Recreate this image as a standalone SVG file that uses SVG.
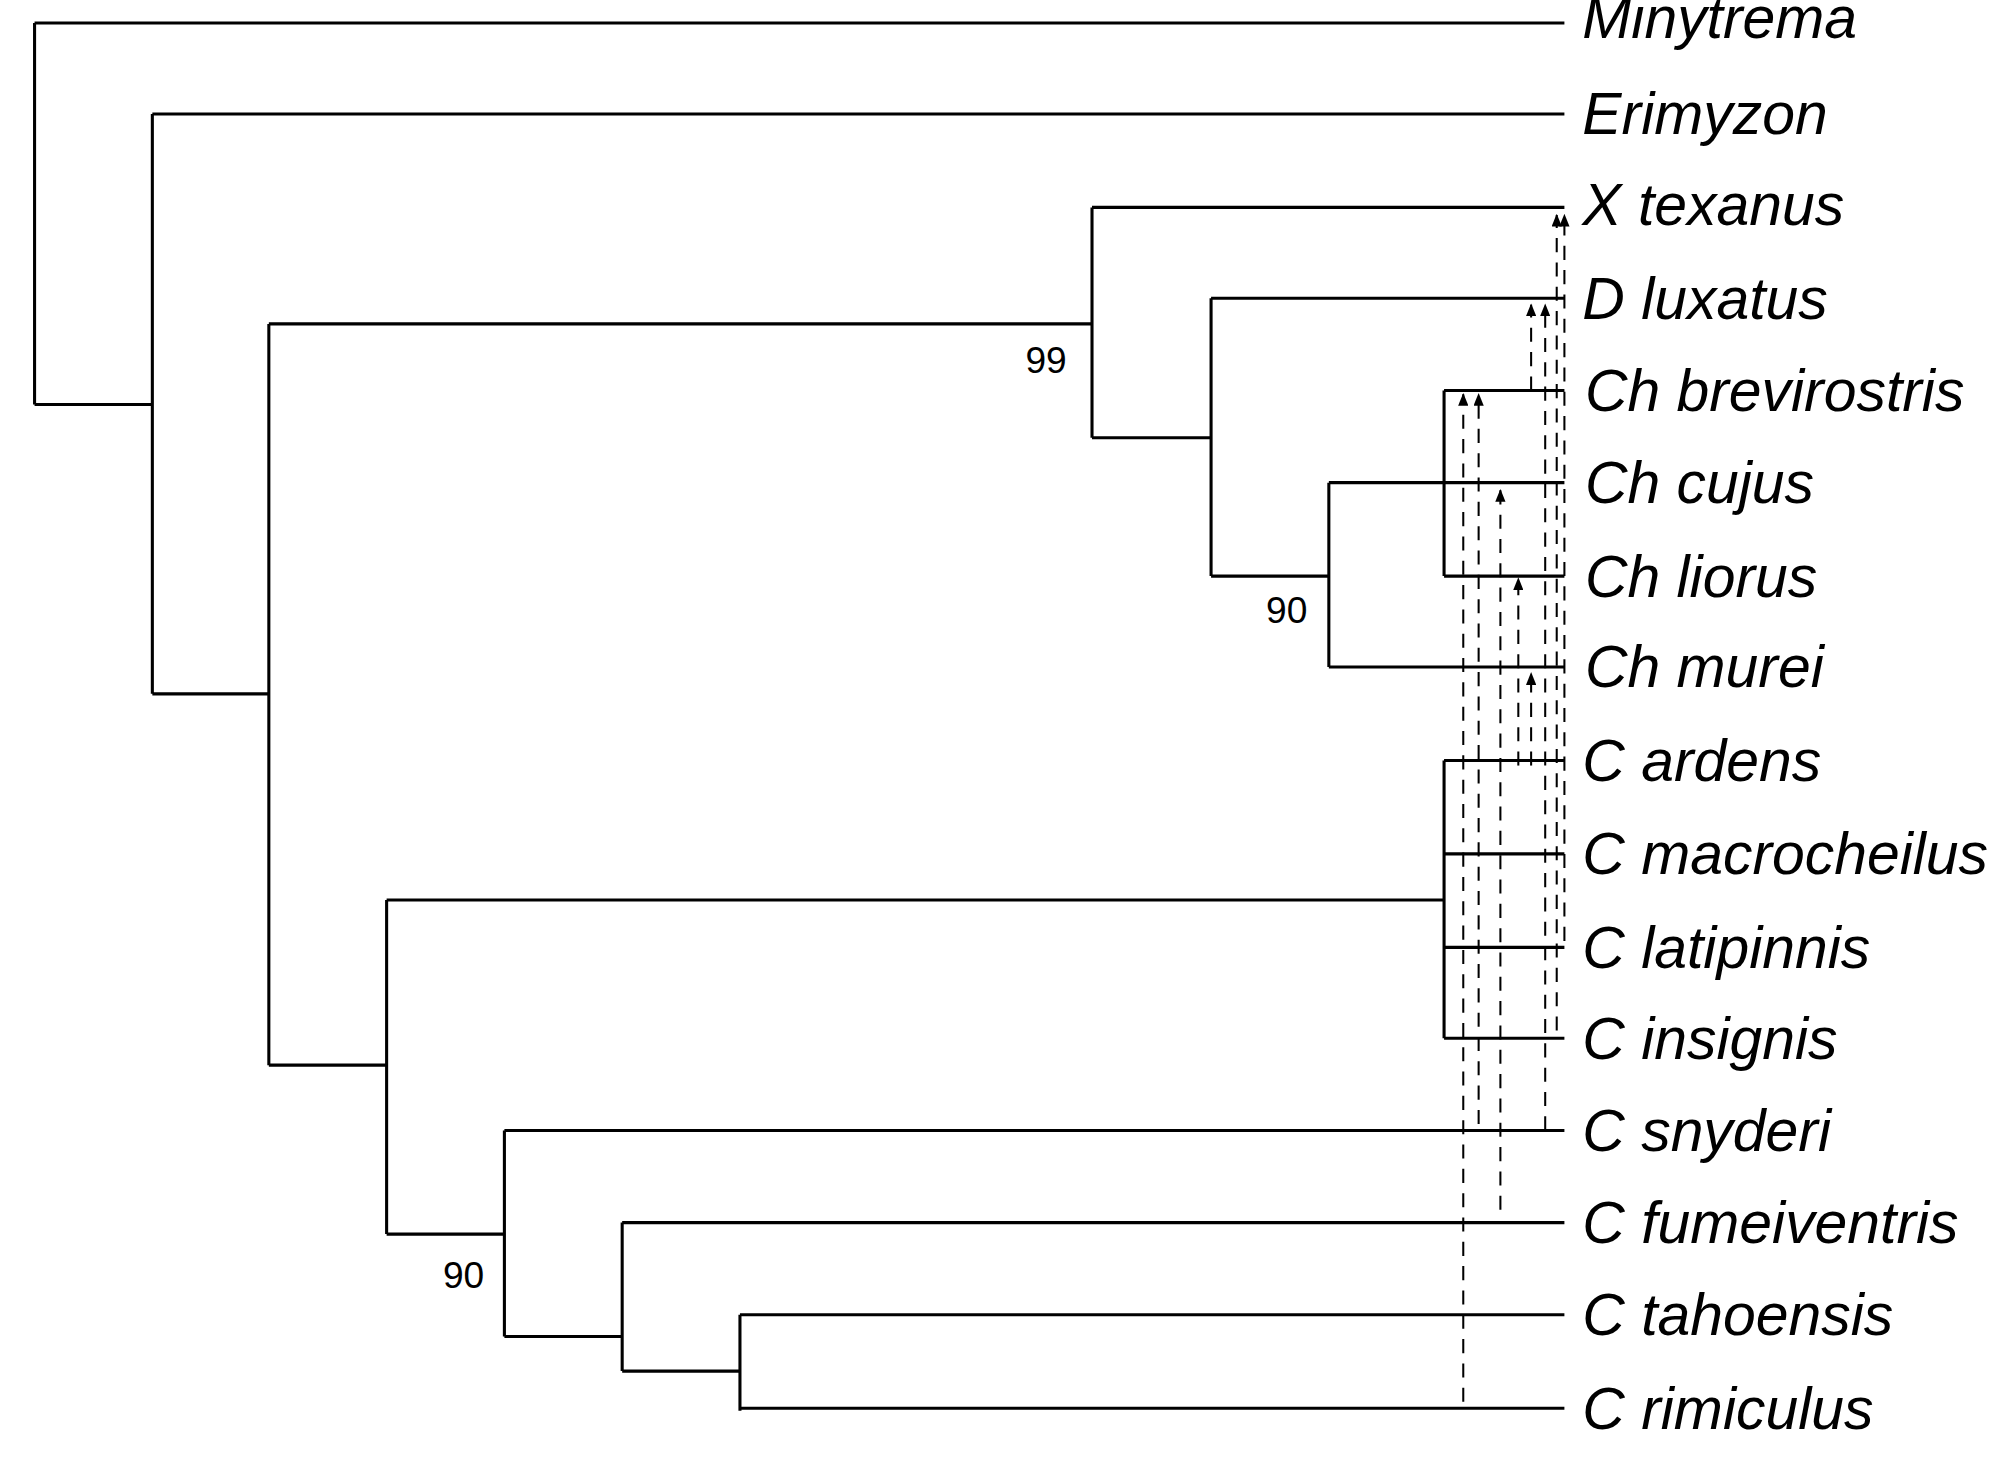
<svg xmlns="http://www.w3.org/2000/svg" width="2001" height="1469" viewBox="0 0 2001 1469">
<style>
.b{stroke:#000;stroke-width:2.4;fill:none}
.d{stroke:#000;stroke-width:1.6;fill:none;stroke-dasharray:11 8;marker-end:url(#ah)}
.t{font-family:"Liberation Sans",Arial,sans-serif;font-style:italic;font-size:46px;fill:#000}
.s{font-family:"Liberation Sans",Arial,sans-serif;font-size:29px;fill:#000}
</style>
<defs><marker id="ah" markerWidth="10" markerHeight="8" refX="9" refY="4" orient="auto" markerUnits="userSpaceOnUse" viewBox="0 0 10 8"><path d="M0,0 L10,4 L0,8 Z" fill="#000"/></marker></defs>
<rect width="2001" height="1469" fill="#fff"/>
<g transform="scale(1.2802)">
<g id="tree">
<path class="b" d="M27,18V316M27,18H1222M27,316H119"/>
<path class="b" d="M119,89V542M119,89H1222M119,542H210"/>
<path class="b" d="M210,253V832M210,253H853M210,832H302"/>
<path class="b" d="M853,162V342M853,162H1222M853,342H946"/>
<path class="b" d="M946,233V450M946,233H1222M946,450H1038"/>
<path class="b" d="M1038,377V521M1038,377H1222M1038,521H1222"/>
<path class="b" d="M1128,305V450M1128,305H1222M1128,450H1222"/>
<path class="b" d="M302,703V964M302,703H1128M302,964H394"/>
<path class="b" d="M1128,594V811M1128,594H1222M1128,667H1222M1128,740H1222M1128,811H1222"/>
<path class="b" d="M394,883V1044M394,883H1222M394,1044H486"/>
<path class="b" d="M486,955V1071M486,955H1222M486,1071H578"/>
<path class="b" d="M578,1027V1102M578,1027H1222M578,1100H1222"/>
</g>
<g id="connectors">
<path class="d" d="M1143,1095V308"/>
<path class="d" d="M1155,878V308"/>
<path class="d" d="M1172,945V383"/>
<path class="d" d="M1186,598V452"/>
<path class="d" d="M1196,598V526"/>
<path class="d" d="M1196,305V238"/>
<path class="d" d="M1207,883V238"/>
<path class="d" d="M1216,805V168"/>
<path class="d" d="M1222,735V168"/>
</g>
<g id="labels">
<text class="t" x="1236" y="30">Minytrema</text>
<text class="t" x="1236" y="105">Erimyzon</text>
<text class="t" x="1236" y="176">X texanus</text>
<text class="t" x="1236" y="249">D luxatus</text>
<text class="t" x="1238" y="321">Ch brevirostris</text>
<text class="t" x="1238" y="393">Ch cujus</text>
<text class="t" x="1238" y="466">Ch liorus</text>
<text class="t" x="1238" y="537">Ch murei</text>
<text class="t" x="1236" y="610">C ardens</text>
<text class="t" x="1236" y="683">C macrocheilus</text>
<text class="t" x="1236" y="756">C latipinnis</text>
<text class="t" x="1236" y="827">C insignis</text>
<text class="t" x="1236" y="899">C snyderi</text>
<text class="t" x="1236" y="971">C fumeiventris</text>
<text class="t" x="1236" y="1043">C tahoensis</text>
<text class="t" x="1236" y="1116">C rimiculus</text>
<text class="s" x="801" y="291">99</text>
<text class="s" x="989" y="487">90</text>
<text class="s" x="346" y="1006">90</text>
</g>
</g>
</svg>
